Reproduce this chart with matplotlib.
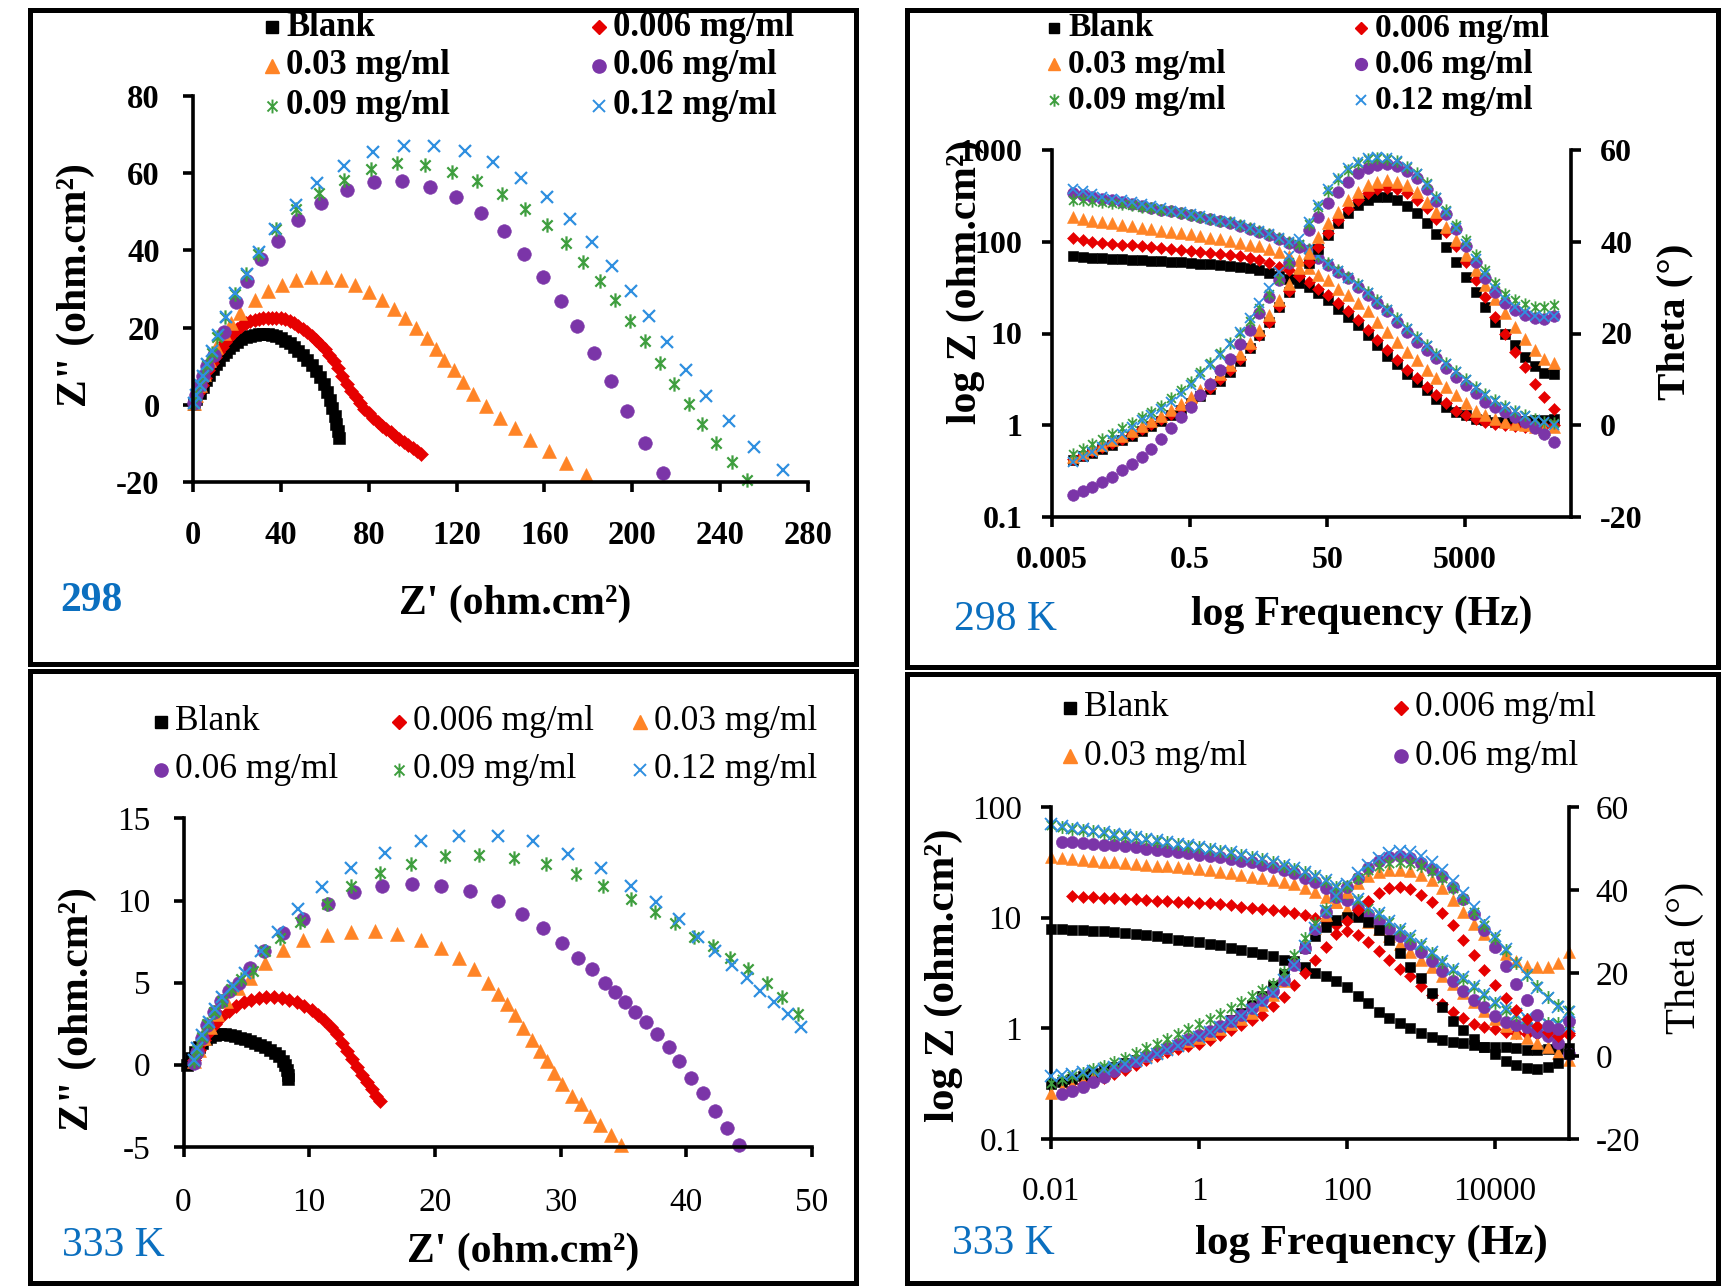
import numpy as np
import matplotlib
matplotlib.use('Agg')
import matplotlib.pyplot as plt
from matplotlib.lines import Line2D
from matplotlib.patches import Rectangle
from matplotlib.path import Path
from matplotlib.ticker import NullLocator

# ---------------- data ----------------
SERIES = ['Blank', '0.006 mg/ml', '0.03 mg/ml', '0.06 mg/ml', '0.09 mg/ml', '0.12 mg/ml']

FREQ = [0.01, 0.0139, 0.0193, 0.0268, 0.0373, 0.0518, 0.072, 0.1, 0.139, 0.193, 0.268, 0.373, 0.518, 0.72,
        1, 1.39, 1.93, 2.68, 3.73, 5.18, 7.2, 10, 13.9, 19.3, 26.8, 37.3, 51.8, 72, 100, 139, 193, 268, 373,
        518, 720, 1000, 1390, 1930, 2680, 3730, 5180, 7200, 10000, 13900, 19300, 26800, 37300, 51800, 72000, 100000]
nan = float('nan')

# Nyquist 298 K  (Z', Z'')
ny298_blank_x = [0.5, 1.5, 3, 4.5, 6, 7.5, 9, 10.5, 12, 13.5, 15, 16.5, 18, 20, 22, 24, 26, 28, 30, 32, 34, 36, 38, 40, 42, 44, 46, 48, 50, 52, 54, 56, 58, 59.5, 61, 62.3, 63.5, 64.5, 65.3, 66, 66.5]
ny298_blank_y = [0.3, 1.5, 3, 4.6, 6.3, 7.8, 9.2, 10.5, 11.7, 12.8, 13.8, 14.7, 15.5, 16.3, 17, 17.5, 17.9, 18.2, 18.4, 18.4, 18.3, 18.1, 17.7, 17.2, 16.6, 15.9, 15, 14, 12.9, 11.7, 10.3, 8.8, 7.1, 5.3, 3.3, 1.3, -0.8, -2.9, -4.9, -6.8, -8.5]
ny298_006_x = [1, 2.5, 4, 5.5, 7, 8.5, 10, 11.5, 13, 14.5, 16, 18, 20, 22, 24, 26, 28, 30, 32, 34, 36, 38, 40, 42, 44, 46, 48, 50, 52, 54, 56, 58, 60, 62, 64, 66, 68, 70, 72, 74, 76, 78, 80, 82, 84, 86, 88, 90, 92, 94, 96, 98, 100, 102, 104]
ny298_006_y = [1, 3, 5, 7, 8.9, 10.7, 12.3, 13.8, 15.1, 16.3, 17.4, 18.6, 19.6, 20.4, 21.1, 21.6, 22, 22.3, 22.5, 22.6, 22.6, 22.6, 22.4, 22.1, 21.7, 21.1, 20.5, 19.7, 18.8, 17.9, 16.9, 15.7, 14.4, 12.9, 11.3, 9.5, 7.5, 5.5, 3.6, 1.9, 0.4, -1, -2.2, -3.3, -4.4, -5.4, -6.3, -7.1, -8, -8.8, -9.7, -10.5, -11.3, -12, -12.7]
ny298_03_x = [0.5, 1.5, 3, 5, 7.5, 10.5, 14, 17.5, 21.3, 28.1, 34.2, 40.3, 46.8, 53.6, 60.7, 67.5, 73.8, 80.2, 86, 91.6, 96.6, 101.7, 106.7, 110.5, 114.3, 118.9, 122.7, 127.7, 133.3, 139.6, 146.7, 153.5, 161.9, 170, 178.8]
ny298_03_y = [0.5, 2.5, 5, 8, 11.5, 15, 18.5, 21.3, 23.8, 27.2, 29.4, 31.1, 32.4, 33.1, 33, 32.3, 31, 29.2, 27.1, 24.8, 22.4, 20, 17.2, 14.4, 11.6, 8.9, 5.8, 2.8, -0.4, -3.3, -6.1, -9, -12, -15, -18.3]
ny298_06_x = [0.5, 1.5, 3, 4.5, 6.5, 9.4, 13.9, 19.5, 24.5, 30.9, 38.9, 47.8, 58.2, 70, 82.2, 95.3, 108, 119.9, 131.3, 141.4, 150.5, 159.3, 167.4, 175, 182.6, 190.2, 197.8, 205.9, 214.2]
ny298_06_y = [0.5, 2.5, 5, 7.5, 10, 13, 18.8, 26.6, 32.2, 37.7, 42.4, 48, 52.3, 55.7, 57.6, 57.9, 56.5, 53.8, 49.7, 44.9, 39, 33, 26.8, 20.4, 13.5, 6.1, -1.7, -10, -17.7]
ny298_09_x = [0.5, 1.5, 3, 4.5, 6.5, 8.5, 11, 14.4, 19, 24, 29.6, 37.7, 46.8, 57.4, 68.8, 80.9, 93, 105.5, 118.1, 129.5, 140.9, 151, 161.1, 170, 177.5, 185.1, 192.2, 199, 205.9, 212.4, 218.8, 225.6, 231.9, 238.3, 245.3, 252.2]
ny298_09_y = [0.5, 2.5, 5, 7.5, 10.3, 13.5, 17.5, 22.7, 28.8, 33.8, 39, 45.5, 50.8, 54.9, 58.2, 61, 62.6, 62.1, 60.4, 57.9, 54.5, 50.8, 46.6, 41.9, 37.1, 32.2, 27.2, 21.8, 16.4, 10.8, 5.5, 0.2, -5, -10, -14.7, -19.4]
ny298_12_x = [0.5, 1.5, 3, 4.5, 6.5, 8.8, 11.5, 14.8, 19.3, 24.5, 30, 37.2, 46.8, 56.6, 68.8, 82, 95.9, 109.8, 123.7, 136.6, 149.2, 161.1, 171.7, 181.8, 190.9, 199.5, 207.4, 216, 224.3, 233.7, 244, 255.4, 268.6]
ny298_12_y = [0.5, 2.5, 5, 7.5, 10.5, 14, 18, 22.7, 29, 34, 39.5, 45.5, 51.8, 57.4, 61.9, 65.6, 67.1, 67.1, 65.7, 63, 58.8, 53.8, 48.2, 42.1, 36, 29.4, 23.1, 16.3, 9.1, 2.4, -4.2, -10.9, -17]

# Nyquist 333 K
ny333_blank_x = [0.3, 0.6, 0.9, 1.2, 1.5, 1.8, 2.1, 2.5, 2.9, 3.3, 3.7, 4.1, 4.5, 4.9, 5.3, 5.7, 6.1, 6.5, 6.9, 7.3, 7.6, 7.9, 8.1, 8.2, 8.3, 8.3]
ny333_blank_y = [0, 0.4, 0.8, 1.1, 1.35, 1.55, 1.7, 1.8, 1.85, 1.85, 1.8, 1.75, 1.65, 1.55, 1.45, 1.35, 1.2, 1.05, 0.9, 0.7, 0.5, 0.25, 0, -0.3, -0.6, -0.9]
ny333_006_x = [0.8, 1.2, 1.6, 2.0, 2.5, 3.0, 3.6, 4.2, 4.8, 5.4, 6.0, 6.6, 7.2, 7.8, 8.4, 9.0, 9.6, 10.2, 10.7, 11.2, 11.7, 12.2, 12.6, 13.0, 13.4, 13.8, 14.2, 14.6, 15.0, 15.3, 15.6]
ny333_006_y = [0.3, 0.9, 1.5, 2.0, 2.5, 2.9, 3.3, 3.6, 3.8, 3.95, 4.05, 4.1, 4.1, 4.05, 3.95, 3.8, 3.6, 3.35, 3.05, 2.7, 2.3, 1.85, 1.35, 0.85, 0.35, -0.15, -0.6, -1.05, -1.5, -1.9, -2.2]
ny333_03_x = [0.8, 1.2, 1.6, 2.1, 2.7, 3.4, 4.3, 5.3, 6.5, 7.9, 9.5, 11.4, 13.3, 15.2, 17, 18.9, 20.5, 21.9, 23.1, 24.2, 25, 25.7, 26.4, 27, 27.7, 28.4, 28.9, 29.5, 30.1, 30.9, 31.6, 32.3, 33.1, 34, 34.8]
ny333_03_y = [0.2, 0.9, 1.6, 2.3, 3.1, 3.9, 4.7, 5.3, 6.2, 7.0, 7.6, 7.9, 8.1, 8.15, 7.95, 7.6, 7.1, 6.5, 5.8, 5.0, 4.3, 3.7, 3.0, 2.25, 1.5, 0.85, 0.2, -0.5, -1.2, -1.9, -2.4, -3.1, -3.7, -4.3, -4.9]
ny333_06_x = [0.8, 1.1, 1.5, 1.9, 2.4, 3.0, 3.6, 4.4, 5.3, 6.4, 7.9, 9.5, 11.5, 13.6, 15.8, 18.2, 20.5, 22.8, 25, 26.9, 28.6, 30.1, 31.4, 32.5, 33.5, 34.3, 35.1, 35.9, 36.8, 37.7, 38.6, 39.4, 40.4, 41.3, 42.3, 43.2, 44.2]
ny333_06_y = [0.1, 0.8, 1.6, 2.4, 3.2, 3.9, 4.5, 5.0, 5.9, 6.9, 8.0, 8.85, 9.8, 10.5, 10.9, 11.0, 10.9, 10.55, 10.0, 9.2, 8.3, 7.4, 6.5, 5.8, 5.0, 4.4, 3.8, 3.2, 2.6, 1.9, 1.1, 0.2, -0.8, -1.7, -2.8, -3.85, -4.9]
ny333_09_x = [0.8, 1.1, 1.5, 1.9, 2.4, 3.1, 3.8, 4.6, 5.5, 6.5, 7.7, 9.3, 11.4, 13.3, 15.6, 18.1, 20.8, 23.5, 26.3, 28.8, 31.2, 33.4, 35.6, 37.5, 39.1, 40.6, 42.1, 43.5, 44.9, 46.4, 47.6, 48.9]
ny333_09_y = [0.2, 0.9, 1.7, 2.5, 3.2, 3.9, 4.6, 5.2, 5.7, 6.9, 7.7, 8.7, 9.8, 10.9, 11.7, 12.25, 12.7, 12.75, 12.6, 12.2, 11.6, 10.9, 10.1, 9.3, 8.6, 7.8, 7.2, 6.5, 5.8, 5.0, 4.1, 3.1]
ny333_12_x = [0.8, 1.1, 1.5, 2.0, 2.5, 3.1, 3.9, 4.9, 6.2, 7.5, 9.1, 11, 13.3, 16, 18.9, 21.9, 25, 27.8, 30.6, 33.2, 35.6, 37.6, 39.4, 40.9, 42.3, 43.6, 44.8, 45.9, 46.95, 48.1, 49.1]
ny333_12_y = [0.3, 1.0, 1.8, 2.6, 3.4, 4.1, 4.8, 5.6, 6.9, 8.1, 9.5, 10.8, 12, 12.9, 13.65, 13.95, 13.95, 13.6, 12.85, 12.0, 10.9, 9.9, 8.85, 7.8, 6.9, 6.05, 5.3, 4.5, 3.8, 3.1, 2.3]

# Bode 298 K : log10|Z| (ohm.cm2) and phase angle (deg) at FREQ
lz298_blank = [1.84, 1.83, 1.82, 1.82, 1.81, 1.81, 1.80, 1.80, 1.79, 1.79, 1.78, 1.78, 1.77, 1.76, 1.76, 1.75, 1.74, 1.73, 1.71, 1.69, 1.66, 1.63, 1.59, 1.55,
               1.51, 1.44, 1.36, 1.27, 1.18, 1.09, 0.98, 0.87, 0.76, 0.67, 0.56, 0.47, 0.38, 0.29, 0.20, 0.145, 0.11, 0.07, 0.055, 0.04, 0.04, 0.05, 0.05, 0.06, 0.06, 0.07]
lz298_006 = [2.04, 2.02, 2.00, 1.99, 1.98, 1.97, 1.96, 1.95, 1.94, 1.93, 1.92, 1.91, 1.90, 1.89, 1.88, 1.87, 1.86, 1.84, 1.82, 1.80, 1.77, 1.73, 1.69, 1.63,
             1.56, 1.49, 1.42, 1.33, 1.24, 1.15, 1.04, 0.93, 0.82, 0.71, 0.60, 0.51, 0.42, 0.33, 0.24, 0.16, 0.11, 0.07, 0.036, 0.018, 0.0, -0.01, -0.02, -0.02, -0.01, 0.0]
lz298_03 = [2.27, 2.25, 2.23, 2.21, 2.20, 2.18, 2.17, 2.15, 2.14, 2.12, 2.11, 2.09, 2.08, 2.06, 2.04, 2.03, 2.01, 1.99, 1.97, 1.95, 1.92, 1.89, 1.85, 1.80,
            1.71, 1.64, 1.58, 1.49, 1.42, 1.33, 1.24, 1.13, 1.02, 0.91, 0.80, 0.71, 0.60, 0.51, 0.42, 0.33, 0.24, 0.16, 0.11, 0.07, 0.036, 0.018, 0.0, -0.02, -0.04, -0.02]
lz298_06 = [2.53, 2.51, 2.49, 2.47, 2.45, 2.43, 2.41, 2.39, 2.37, 2.35, 2.33, 2.31, 2.29, 2.27, 2.25, 2.23, 2.20, 2.17, 2.14, 2.11, 2.07, 2.03, 1.99, 1.95,
            1.91, 1.82, 1.75, 1.67, 1.60, 1.51, 1.42, 1.33, 1.24, 1.13, 1.02, 0.91, 0.82, 0.73, 0.62, 0.53, 0.44, 0.35, 0.25, 0.20, 0.145, 0.09, 0.036, -0.025, -0.09, -0.18]
lz298_09 = [2.45, 2.45, 2.44, 2.43, 2.42, 2.41, 2.40, 2.38, 2.37, 2.35, 2.33, 2.31, 2.29, 2.27, 2.25, 2.23, 2.21, 2.18, 2.15, 2.12, 2.08, 2.04, 2.00, 1.96,
            1.92, 1.84, 1.77, 1.69, 1.62, 1.54, 1.45, 1.36, 1.27, 1.17, 1.06, 0.96, 0.87, 0.78, 0.68, 0.59, 0.50, 0.42, 0.34, 0.27, 0.21, 0.16, 0.11, 0.07, 0.04, 0.02]
lz298_12 = [2.58, 2.55, 2.52, 2.49, 2.47, 2.45, 2.43, 2.41, 2.39, 2.37, 2.34, 2.32, 2.30, 2.28, 2.25, 2.23, 2.21, 2.18, 2.15, 2.12, 2.08, 2.04, 2.00, 1.96,
            1.92, 1.84, 1.76, 1.68, 1.61, 1.53, 1.44, 1.35, 1.26, 1.16, 1.05, 0.95, 0.86, 0.77, 0.67, 0.58, 0.49, 0.41, 0.33, 0.26, 0.20, 0.15, 0.10, 0.06, 0.03, 0.0]
th298_blank = [-7.6, -6.8, -6.0, -5.1, -4.2, -3.3, -2.3, -1.2, -0.1, 1.0, 2.2, 3.4, 4.8, 6.3, 7.9, 9.6, 11.6, 14.1, 16.9, 19.6, 22.5, 25.8, 29.1, 32.3,
               35.3, 38.5, 41.5, 44.0, 46.2, 48.0, 49.1, 49.7, 49.7, 49.1, 47.9, 46.3, 44.1, 41.6, 38.8, 35.6, 32.4, 29.1, 25.8, 22.5, 19.9, 17.5, 14.9, 12.9, 11.3, 11.1]
th298_006 = [-7.3, -6.5, -5.6, -4.7, -3.8, -2.9, -1.9, -0.9, 0.2, 1.3, 2.5, 3.8, 5.1, 6.6, 8.2, 10.0, 12.0, 14.5, 17.1, 19.6, 22.6, 25.9, 29.2, 32.5,
             35.5, 38.8, 42.0, 44.8, 47.2, 49.2, 50.6, 51.4, 51.7, 51.4, 50.6, 49.2, 47.3, 45.0, 42.2, 39.1, 35.6, 31.6, 28.0, 23.6, 20.0, 16.0, 12.6, 9.1, 6.2, 3.6]
th298_03 = [-7.0, -6.1, -5.2, -4.3, -3.3, -2.3, -1.3, -0.2, 0.9, 2.1, 3.4, 4.7, 6.1, 7.6, 9.3, 11.1, 13.1, 15.5, 18.0, 20.8, 24.0, 27.4, 30.8, 34.2,
            37.5, 41.1, 44.0, 46.5, 49.1, 50.9, 52.4, 53.1, 53.5, 53.1, 52.4, 50.9, 48.7, 46.5, 43.3, 40.4, 37.1, 33.8, 30.5, 27.6, 24.4, 21.5, 18.9, 16.4, 14.5, 13.5]
th298_06 = [-15.3, -14.3, -13.5, -12.4, -11.3, -9.8, -8.4, -6.9, -5.1, -2.9, -0.7, 1.8, 4.0, 6.5, 9.1, 12.0, 14.5, 17.7, 20.7, 24.4, 28.0, 31.6, 35.3, 38.9,
            42.5, 45.5, 48.4, 50.9, 53.1, 54.9, 56.0, 56.7, 57.0, 56.5, 55.5, 53.8, 51.6, 48.9, 46.0, 42.7, 39.1, 35.6, 32.2, 29.1, 26.7, 25.1, 24.0, 23.3, 23.1, 23.8]
th298_09 = [-6.2, -5.1, -4.0, -2.9, -1.8, -0.7, 0.5, 1.7, 2.9, 4.3, 5.9, 7.6, 9.5, 11.5, 13.6, 15.7, 17.9, 20.2, 22.8, 25.6, 28.6, 31.9, 35.5, 39.5,
            43.8, 47.6, 51.0, 53.6, 55.6, 57.1, 58.0, 58.2, 58.0, 57.5, 56.4, 54.9, 52.7, 49.8, 46.9, 43.6, 40.4, 37.1, 33.8, 30.9, 28.6, 27.3, 26.4, 25.8, 25.8, 26.2]
th298_12 = [-8.0, -6.9, -5.8, -4.7, -3.3, -1.8, -0.4, 1.1, 2.2, 3.6, 5.1, 6.9, 8.7, 10.9, 13.1, 15.3, 17.8, 20.4, 23.4, 26.6, 30.0, 33.5, 37.0, 40.6,
            44.2, 48.0, 51.4, 54.0, 56.0, 57.4, 58.2, 58.5, 58.2, 57.6, 56.4, 54.7, 52.4, 49.5, 46.4, 43.0, 39.6, 36.3, 33.0, 30.0, 27.5, 25.8, 24.6, 23.8, 23.5, 23.8]

# Bode 333 K
lz333_blank = [0.90, 0.90, 0.89, 0.89, 0.88, 0.88, 0.87, 0.86, 0.85, 0.84, 0.83, 0.82, 0.80, 0.79, 0.78, 0.76, 0.75, 0.73, 0.71, 0.69,
               0.67, 0.65, 0.62, 0.59, 0.55, 0.50, 0.47, 0.43, 0.37, 0.29, 0.23, 0.15, 0.09, 0.045, 0.0, -0.045, -0.075, -0.105, -0.12, -0.135,
               -0.15, -0.165, -0.165, -0.17, -0.18, -0.2, -0.2, -0.19, -0.19, -0.18]
lz333_006 = [nan, nan, 1.195, 1.19, 1.19, 1.18, 1.18, 1.17, 1.17, 1.16, 1.15, 1.15, 1.14, 1.14, 1.13, 1.13, 1.12, 1.11, 1.10, 1.09,
             1.08, 1.07, 1.06, 1.04, 1.02, 1.00, 0.97, 0.93, 0.88, 0.84, 0.78, 0.70, 0.62, 0.54, 0.47, 0.38, 0.30, 0.22, 0.15, 0.09,
             0.04, 0.01, -0.01, -0.03, -0.04, -0.05, -0.05, -0.05, -0.05, -0.04]
lz333_03 = [1.55, 1.54, 1.53, 1.52, 1.515, 1.505, 1.50, 1.49, 1.485, 1.48, 1.47, 1.465, 1.455, 1.45, 1.44, 1.43, 1.415, 1.40, 1.385, 1.37,
            1.355, 1.34, 1.32, 1.30, 1.265, 1.23, 1.19, 1.14, 1.08, 1.02, 0.96, 0.90, 0.83, 0.76, 0.69, 0.62, 0.55, 0.47, 0.40, 0.32,
            0.24, 0.16, 0.085, 0.02, -0.04, -0.09, -0.13, -0.17, -0.22, -0.29]
lz333_06 = [nan, 1.685, 1.68, 1.675, 1.67, 1.66, 1.655, 1.645, 1.635, 1.625, 1.615, 1.60, 1.59, 1.58, 1.57, 1.56, 1.545, 1.53, 1.515, 1.50,
            1.48, 1.46, 1.43, 1.40, 1.36, 1.32, 1.27, 1.22, 1.16, 1.09, 1.03, 0.97, 0.90, 0.83, 0.76, 0.69, 0.61, 0.52, 0.43, 0.34,
            0.26, 0.19, 0.11, 0.06, 0.03, 0.01, -0.03, -0.07, -0.13, -0.23]
lz333_09 = [1.835, 1.82, 1.80, 1.79, 1.78, 1.765, 1.75, 1.74, 1.725, 1.71, 1.695, 1.68, 1.665, 1.65, 1.635, 1.62, 1.60, 1.585, 1.565, 1.55,
            1.53, 1.50, 1.47, 1.44, 1.41, 1.38, 1.33, 1.28, 1.22, 1.16, 1.09, 1.03, 0.96, 0.89, 0.82, 0.75, 0.68, 0.60, 0.53, 0.45,
            0.37, 0.30, 0.23, 0.17, 0.12, 0.08, 0.06, 0.05, 0.045, 0.045]
lz333_12 = [1.85, 1.83, 1.81, 1.80, 1.785, 1.77, 1.755, 1.745, 1.73, 1.715, 1.70, 1.685, 1.67, 1.655, 1.64, 1.62, 1.605, 1.59, 1.57, 1.55,
            1.53, 1.505, 1.475, 1.445, 1.415, 1.38, 1.34, 1.29, 1.23, 1.17, 1.10, 1.04, 0.97, 0.90, 0.83, 0.76, 0.69, 0.61, 0.54, 0.46,
            0.38, 0.31, 0.24, 0.18, 0.13, 0.09, 0.06, 0.04, 0.03, 0.02]
th333_blank = [-6.8, -6.2, -5.6, -4.9, -4.2, -3.4, -2.6, -1.8, -1.0, -0.2, 0.7, 1.6, 2.5, 3.5, 4.6, 5.8, 7.1, 8.6, 10.3, 12.2,
               14.4, 16.9, 19.7, 22.8, 26.0, 28.9, 31.2, 32.8, 33.6, 33.5, 32.4, 30.4, 28.0, 24.7, 21.5, 18.7, 15.3, 11.9, 8.5, 6.3,
               4.1, 2.2, 0.4, -1.2, -2.2, -2.9, -3.1, -2.7, -1.6, 0.4]
th333_006 = [nan, nan, -7.6, -6.8, -6.0, -5.2, -4.3, -3.4, -2.2, -1.0, 0.0, 0.9, 1.7, 2.4, 3.0, 3.8, 5.0, 6.3, 7.5, 8.6,
             10.0, 12.0, 14.2, 17.2, 20.1, 23.1, 26.2, 29.4, 32.5, 35.2, 37.4, 39.3, 40.5, 40.7, 40.2, 38.8, 37.0, 34.4, 31.5, 27.9,
             24.4, 20.7, 17.2, 14.0, 11.2, 8.9, 7.2, 5.7, 4.8, 5.1]
th333_03 = [-8.8, -8.0, -7.2, -6.2, -5.1, -4.0, -2.9, -1.8, -0.8, 0.1, 1.0, 2.0, 2.8, 3.6, 4.4, 5.4, 6.4, 7.6, 8.8, 10.3,
            12.2, 14.6, 18.0, 22.5, 27.0, 30.8, 34.0, 37.0, 39.5, 41.8, 43.3, 44.3, 44.8, 44.9, 44.5, 43.6, 42.4, 40.4, 37.6, 34.6,
            31.8, 29.3, 26.9, 24.6, 22.8, 21.6, 21.4, 21.5, 22.3, 25.1]
th333_06 = [nan, -9.2, -8.4, -7.4, -6.2, -5.0, -3.7, -2.4, -1.2, -0.1, 1.0, 2.0, 3.0, 4.0, 5.0, 6.0, 7.2, 8.5, 9.9, 11.5,
            13.4, 15.6, 18.4, 22.0, 26.0, 30.5, 34.8, 38.2, 40.8, 42.9, 45.3, 47.0, 47.9, 48.2, 47.7, 46.6, 45.0, 43.3, 40.7, 37.8,
            34.3, 30.3, 26.2, 21.8, 17.4, 13.4, 9.8, 7.3, 6.6, 8.5]
th333_09 = [-6.4, -5.6, -4.8, -4.0, -3.2, -2.5, -1.5, -0.4, 0.7, 1.9, 3.0, 4.1, 5.3, 6.5, 7.7, 9.0, 10.2, 11.5, 12.9, 14.4,
            16.0, 17.4, 20.3, 24.4, 28.4, 32.0, 35.5, 38.5, 41.0, 43.0, 44.7, 45.9, 46.6, 46.8, 46.5, 45.7, 44.5, 42.8, 40.5, 37.8,
            34.7, 31.5, 28.5, 25.5, 22.5, 19.6, 16.8, 14.3, 12.3, 11.2]
th333_12 = [-4.8, -4.6, -4.3, -3.9, -3.5, -3.1, -2.6, -2.0, -1.2, -0.4, 0.5, 1.5, 2.5, 3.5, 4.6, 5.8, 7.0, 8.3, 9.7, 11.2,
            13.0, 15.2, 18.2, 22.0, 26.4, 30.8, 35.0, 38.6, 41.5, 44.0, 46.0, 47.6, 48.8, 49.4, 49.2, 48.3, 46.8, 44.8, 42.2, 39.2,
            35.8, 32.3, 29.0, 25.7, 22.5, 19.5, 16.5, 14.0, 11.7, 10.6]

X298_TICKS = [0.005, 0.5, 50, 5000]
X333_TICKS = [0.01, 1, 100, 10000]

# ---------------- style ----------------
W, H = 1734, 1286
plt.rcParams['font.family'] = ['Liberation Serif', 'DejaVu Serif']
plt.rcParams['axes.unicode_minus'] = False
fig = plt.figure(figsize=(W / 100, H / 100), dpi=100)

STAR = Path([(0, -1), (0, 1), (-0.72, -0.72), (0.72, 0.72), (-0.72, 0.72), (0.72, -0.72)],
            [Path.MOVETO, Path.LINETO, Path.MOVETO, Path.LINETO, Path.MOVETO, Path.LINETO])
STY = [dict(m='s', c='#000000', k=0.85, open=False),
       dict(m='D', c='#E60000', k=0.72, open=False),
       dict(m='^', c='#FF8426', k=1.0, open=False),
       dict(m='o', c='#7B35A8', k=1.0, open=False),
       dict(m=STAR, c='#3E9E3E', k=1.05, open=True),
       dict(m='x', c='#2F8FE0', k=0.9, open=True)]


def fxp(x):
    return x / W


def fyp(y):
    return 1 - y / H


def make_axes(l, r, t, b):
    return fig.add_axes([l / W, 1 - b / H, (r - l) / W, (b - t) / H])


def draw(ax, x, y, i, ms, mew=1.6):
    s = STY[i]
    if s['open']:
        ax.plot(x, y, ls='none', marker=s['m'], ms=ms * s['k'], mfc='none', mec=s['c'], mew=mew, clip_on=False)
    else:
        ax.plot(x, y, ls='none', marker=s['m'], ms=ms * s['k'], mfc=s['c'], mec=s['c'], mew=0.4, clip_on=False)


def legend_entry(x, y, i, label, ms, size, weight):
    s = STY[i]
    if s['open']:
        ln = Line2D([fxp(x)], [fyp(y)], transform=fig.transFigure, ls='none', marker=s['m'], ms=ms * s['k'],
                    mfc='none', mec=s['c'], mew=1.4)
    else:
        ln = Line2D([fxp(x)], [fyp(y)], transform=fig.transFigure, ls='none', marker=s['m'], ms=ms * s['k'],
                    mfc=s['c'], mec=s['c'])
    fig.add_artist(ln)
    fig.text(fxp(x + 14), fyp(y), label, ha='left', va='center', fontsize=size, weight=weight)


def style_axis(ax, weight, lsize, pad_x, pad_y, hide=('top', 'right')):
    for sp in ax.spines.values():
        sp.set_linewidth(2.6)
    for sp in hide:
        ax.spines[sp].set_visible(False)
    ax.tick_params(axis='both', which='major', direction='out', length=7, width=2.6, labelsize=lsize)
    ax.tick_params(axis='x', pad=pad_x)
    ax.tick_params(axis='y', pad=pad_y)
    for lab in ax.get_xticklabels() + ax.get_yticklabels():
        lab.set_fontweight(weight)


def border(l, t, r, b):
    fig.add_artist(Rectangle((fxp(l), fyp(b)), (r - l) / W, (b - t) / H, transform=fig.transFigure,
                             fill=False, lw=3.6, ec='black'))


BLUE_TXT = '#0B6FBF'

# ---------------- panel A : Nyquist 298 ----------------
axA = make_axes(193, 808, 96, 482)
nyA = [(ny298_blank_x, ny298_blank_y), (ny298_006_x, ny298_006_y), (ny298_03_x, ny298_03_y),
       (ny298_06_x, ny298_06_y), (ny298_09_x, ny298_09_y), (ny298_12_x, ny298_12_y)]
for i, (xx, yy) in enumerate(nyA):
    draw(axA, xx, yy, i, 9.8)
axA.set_xlim(0, 280)
axA.set_ylim(-20, 80)
axA.set_xticks(range(0, 281, 40))
axA.set_yticks(range(-20, 81, 20))
style_axis(axA, 'bold', 23.5, 20, 17)
for j, (col, row) in enumerate([(0, 0), (1, 0), (0, 1), (1, 1), (0, 2), (1, 2)]):
    legend_entry([272, 599][col], [27, 66, 106][row], j, SERIES[j], 9.5, 25, 'bold')
fig.text(fxp(515), fyp(604), "Z' (ohm.cm²)", ha='center', va='center', fontsize=30, weight='bold')
fig.text(fxp(76), fyp(285), 'Z" (ohm.cm²)', ha='center', va='center', fontsize=30, weight='bold', rotation=90)
fig.text(fxp(91), fyp(601), '298', ha='center', va='center', fontsize=30, weight='bold', color=BLUE_TXT)

# ---------------- panel B : Bode 298 ----------------
axB = make_axes(1052, 1571, 150, 517)
axB2 = axB.twinx()
lzB = [lz298_blank, lz298_006, lz298_03, lz298_06, lz298_09, lz298_12]
thB = [th298_blank, th298_006, th298_03, th298_06, th298_09, th298_12]
for i in range(6):
    draw(axB, FREQ, 10 ** np.array(lzB[i]), i, 8.4, 1.3)
for i in range(6):
    draw(axB2, FREQ, thB[i], i, 8.4, 1.3)
axB.set_xscale('log')
axB.set_yscale('log')
axB.set_xlim(0.005, 1.75e5)
axB.set_ylim(0.1, 1000)
axB.set_xticks(X298_TICKS)
axB.set_xticklabels(['0.005', '0.5', '50', '5000'])
axB.set_yticks([0.1, 1, 10, 100, 1000])
axB.set_yticklabels(['0.1', '1', '10', '100', '1000'])
axB.xaxis.set_minor_locator(NullLocator())
axB.yaxis.set_minor_locator(NullLocator())
axB2.set_ylim(-20, 60)
axB2.set_yticks(range(-20, 61, 20))
style_axis(axB, 'bold', 23, 14, 14, hide=('top', 'right'))
style_axis(axB2, 'bold', 23, 14, 14, hide=('top', 'left', 'bottom'))
for j, (col, row) in enumerate([(0, 0), (1, 0), (0, 1), (1, 1), (0, 2), (1, 2)]):
    legend_entry([1054, 1361][col], [28, 64, 100][row], j, SERIES[j], 8.5, 24, 'bold')
fig.text(fxp(1362), fyp(615), 'log Frequency (Hz)', ha='center', va='center', fontsize=30, weight='bold')
fig.text(fxp(966), fyp(282), 'log Z (ohm.cm²)', ha='center', va='center', fontsize=30, weight='bold', rotation=90)
fig.text(fxp(1675), fyp(322), 'Theta (°)', ha='center', va='center', fontsize=29.5, weight='bold', rotation=90)
fig.text(fxp(1005), fyp(620), '298 K', ha='center', va='center', fontsize=30, color=BLUE_TXT)

# ---------------- panel C : Nyquist 333 ----------------
axC = make_axes(183.5, 812, 818.4, 1146.8)
nyC = [(ny333_blank_x, ny333_blank_y), (ny333_006_x, ny333_006_y), (ny333_03_x, ny333_03_y),
       (ny333_06_x, ny333_06_y), (ny333_09_x, ny333_09_y), (ny333_12_x, ny333_12_y)]
for i, (xx, yy) in enumerate(nyC):
    draw(axC, xx, yy, i, 9.8)
axC.set_xlim(0, 50)
axC.set_ylim(-5, 15)
axC.set_xticks(range(0, 51, 10))
axC.set_yticks(range(-5, 16, 5))
style_axis(axC, 'normal', 24, 22, 17)
for j, (col, row) in enumerate([(0, 0), (1, 0), (2, 0), (0, 1), (1, 1), (2, 1)]):
    legend_entry([161, 399, 640][col], [722, 770][row], j, SERIES[j], 9.5, 25.5, 'normal')
fig.text(fxp(523), fyp(1252), "Z' (ohm.cm²)", ha='center', va='center', fontsize=30, weight='bold')
fig.text(fxp(78), fyp(1009), 'Z" (ohm.cm²)', ha='center', va='center', fontsize=30, weight='bold', rotation=90)
fig.text(fxp(113), fyp(1246), '333 K', ha='center', va='center', fontsize=30, color=BLUE_TXT)

# ---------------- panel D : Bode 333 ----------------
axD = make_axes(1051, 1569, 807, 1139)
axD2 = axD.twinx()
lzD = [lz333_blank, lz333_006, lz333_03, lz333_06, lz333_09, lz333_12]
thD = [th333_blank, th333_006, th333_03, th333_06, th333_09, th333_12]
for i in range(6):
    draw(axD, FREQ, 10 ** np.array(lzD[i]), i, 8.8, 1.3)
for i in range(6):
    draw(axD2, FREQ, thD[i], i, 8.8, 1.3)
axD.set_xscale('log')
axD.set_yscale('log')
axD.set_xlim(0.01, 1e5)
axD.set_ylim(0.1, 100)
axD.set_xticks(X333_TICKS)
axD.set_xticklabels(['0.01', '1', '100', '10000'])
axD.set_yticks([0.1, 1, 10, 100])
axD.set_yticklabels(['0.1', '1', '10', '100'])
axD.xaxis.set_minor_locator(NullLocator())
axD.yaxis.set_minor_locator(NullLocator())
axD2.set_ylim(-20, 60)
axD2.set_yticks(range(-20, 61, 20))
style_axis(axD, 'normal', 24, 20, 14, hide=('top', 'right'))
style_axis(axD2, 'normal', 24, 20, 12, hide=('top', 'left', 'bottom'))
for j, (col, row) in enumerate([(0, 0), (1, 0), (0, 1), (1, 1)]):
    legend_entry([1070, 1401][col], [708, 756][row], j, SERIES[j], 9.5, 25.5, 'normal')
fig.text(fxp(1371), fyp(1244), 'log Frequency (Hz)', ha='center', va='center', fontsize=31, weight='bold')
fig.text(fxp(944), fyp(975), 'log Z (ohm.cm²)', ha='center', va='center', fontsize=31, weight='bold', rotation=90)
fig.text(fxp(1685), fyp(958), 'Theta (°)', ha='center', va='center', fontsize=30.5, rotation=90)
fig.text(fxp(1003), fyp(1244), '333 K', ha='center', va='center', fontsize=30, color=BLUE_TXT)

# ---------------- panel borders ----------------
border(30, 10, 856, 664)
border(907, 10, 1718, 667)
border(30, 671, 856, 1283)
border(907, 674, 1718, 1283)

fig.savefig('out.png', dpi=100)
